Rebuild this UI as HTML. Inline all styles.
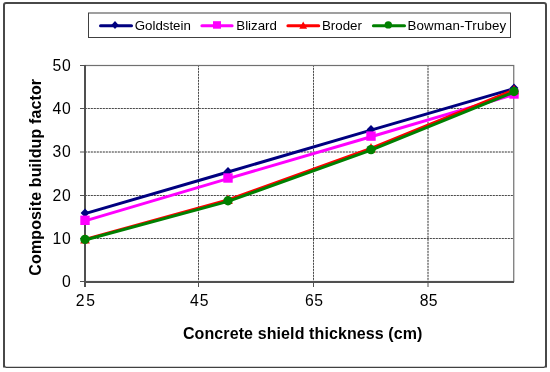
<!DOCTYPE html>
<html><head><meta charset="utf-8">
<style>
html,body{margin:0;padding:0;background:#fff;}
body{width:550px;height:372px;overflow:hidden;}
svg{display:block;}
text{font-family:"Liberation Sans",Arial,sans-serif;fill:#000;}
.tk{font-size:15.75px;}
.lg{font-size:13.3px;fill:#1a1a1a;}
.ti{font-size:16px;font-weight:bold;}
</style></head>
<body>
<svg width="550" height="372" viewBox="0 0 550 372">
<rect x="0" y="0" width="550" height="372" fill="#fff"/>
<!-- chart border -->
<path d="M4,367.5 L4,5 Q4,3 6,3 L544,3 Q546,3 546,5 L546,367.5" fill="none" stroke="#484848" stroke-width="2"/>
<path d="M4.5,365.5 Q4.5,367.3 6.5,367.3 L543.5,367.3 Q545.5,367.3 545.5,365.5" fill="none" stroke="#404040" stroke-width="1.2"/>

<!-- plot area border -->
<rect x="85" y="65.5" width="428.75" height="216" fill="none" stroke="#707070" stroke-width="1.2"/>

<!-- gridlines -->
<g stroke="#c8c8c8" stroke-width="1" fill="none">
<line x1="86" y1="108.5" x2="513" y2="108.5"/>
<line x1="86" y1="152" x2="513" y2="152"/>
<line x1="86" y1="195.5" x2="513" y2="195.5"/>
<line x1="86" y1="238.5" x2="513" y2="238.5"/>
<line x1="198.5" y1="66" x2="198.5" y2="281"/>
<line x1="313.5" y1="66" x2="313.5" y2="281"/>
<line x1="428" y1="66" x2="428" y2="281"/>
</g>
<g stroke="#4a4a4a" stroke-width="1" stroke-dasharray="1.8 1.2" stroke-dashoffset="1" fill="none">
<line x1="86" y1="108.5" x2="513" y2="108.5"/>
<line x1="86" y1="152" x2="513" y2="152"/>
<line x1="86" y1="195.5" x2="513" y2="195.5"/>
<line x1="86" y1="238.5" x2="513" y2="238.5"/>
<line x1="198.5" y1="66" x2="198.5" y2="281"/>
<line x1="313.5" y1="66" x2="313.5" y2="281"/>
<line x1="428" y1="66" x2="428" y2="281"/>
</g>

<!-- axes -->
<g stroke="#505050" fill="none">
<line x1="85" y1="65" x2="85" y2="283" stroke-width="2"/>
<line x1="84" y1="282" x2="514" y2="282" stroke-width="2"/>
<!-- y ticks -->
<line x1="80" y1="65.5" x2="84" y2="65.5" stroke-width="1"/>
<line x1="80" y1="108.5" x2="84" y2="108.5" stroke-width="1"/>
<line x1="80" y1="152" x2="84" y2="152" stroke-width="1"/>
<line x1="80" y1="195.5" x2="84" y2="195.5" stroke-width="1"/>
<line x1="80" y1="238.5" x2="84" y2="238.5" stroke-width="1"/>
<line x1="80" y1="281.5" x2="84" y2="281.5" stroke-width="1"/>
<!-- x ticks -->
<line x1="85" y1="283" x2="85" y2="287" stroke-width="2"/>
<line x1="198.5" y1="283" x2="198.5" y2="287" stroke-width="1"/>
<line x1="313.5" y1="283" x2="313.5" y2="287" stroke-width="1"/>
<line x1="428" y1="283" x2="428" y2="287" stroke-width="1"/>
</g>

<!-- series: line then markers, in series order -->
<g fill="none" stroke-width="3" stroke-linejoin="round">
<polyline stroke="#000080" transform="translate(0,0.6)" points="85,213 228,171.4 371,129.5 514,88"/>
</g>
<g fill="#000080">
<path d="M85,208.6 L89.4,213 L85,217.4 L80.6,213Z"/>
<path d="M228,167 L232.4,171.4 L228,175.8 L223.6,171.4Z"/>
<path d="M371,125.1 L375.4,129.5 L371,133.9 L366.6,129.5Z"/>
<path d="M514,83.6 L518.4,88 L514,92.4 L509.6,88Z"/>
</g>
<g fill="none" stroke-width="3" stroke-linejoin="round">
<polyline stroke="#FF00FF" transform="translate(0,0.6)" points="85,220.3 228,178 371,136.1 514,94"/>
</g>
<g fill="#FF00FF">
<rect x="80.3" y="215.6" width="9.4" height="9.4"/>
<rect x="223.3" y="173.3" width="9.4" height="9.4"/>
<rect x="366.3" y="131.4" width="9.4" height="9.4"/>
<rect x="509.3" y="89.3" width="9.4" height="9.4"/>
</g>
<g fill="none" stroke-width="3" stroke-linejoin="round">
<polyline stroke="#FF0000" transform="translate(0,0.6)" points="85,238.8 228,199.3 371,147.7 514,89.5"/>
</g>
<g fill="#FF0000">
<path d="M85,234 L89.8,243.6 L80.2,243.6Z"/>
<path d="M228,194.5 L232.8,204.1 L223.2,204.1Z"/>
<path d="M371,142.9 L375.8,152.5 L366.2,152.5Z"/>
<path d="M514,84.7 L518.8,94.3 L509.2,94.3Z"/>
</g>
<g fill="none" stroke-width="3" stroke-linejoin="round">
<polyline stroke="#008000" transform="translate(0,0.6)" points="85,239.4 228,200.8 371,149.6 514,91.5"/>
</g>
<g fill="#008000">
<circle cx="85" cy="239.4" r="4.7"/>
<circle cx="228" cy="200.8" r="4.7"/>
<circle cx="371" cy="149.6" r="4.7"/>
<circle cx="514" cy="91.5" r="4.7"/>
</g>

<!-- y tick labels -->
<g class="tk" text-anchor="end">
<text x="70.7" y="71.2" textLength="18.3" lengthAdjust="spacing">50</text>
<text x="70.7" y="113.9" textLength="18.3" lengthAdjust="spacing">40</text>
<text x="70.7" y="157" textLength="18.3" lengthAdjust="spacing">30</text>
<text x="70.7" y="200.9" textLength="18.3" lengthAdjust="spacing">20</text>
<text x="70.7" y="244" textLength="18.3" lengthAdjust="spacing">10</text>
<text x="70.7" y="287.3">0</text>
</g>
<!-- x tick labels -->
<g class="tk" text-anchor="middle">
<text x="85.3" y="306" textLength="19.2" lengthAdjust="spacing">25</text>
<text x="199.3" y="306" textLength="18.6" lengthAdjust="spacing">45</text>
<text x="314" y="306" textLength="17.9" lengthAdjust="spacing">65</text>
<text x="428.6" y="306" textLength="17.6" lengthAdjust="spacing">85</text>
</g>

<!-- axis titles -->
<text class="ti" x="302.7" y="339.1" text-anchor="middle" textLength="239.5" lengthAdjust="spacing">Concrete shield thickness (cm)</text>
<text class="ti" transform="translate(41.1,177.3) rotate(-90)" x="0" y="0" text-anchor="middle" textLength="196.7" lengthAdjust="spacing">Composite buildup factor</text>

<!-- legend -->
<rect x="88.5" y="13" width="422" height="24.5" fill="#fff" stroke="#404040" stroke-width="1"/>
<g stroke-width="3" stroke-linecap="round" fill="none">
<line x1="100.5" y1="25.8" x2="131.5" y2="25.8" stroke="#000080"/>
<line x1="201.9" y1="25.8" x2="232.1" y2="25.8" stroke="#FF00FF"/>
<line x1="287.9" y1="25.8" x2="318.7" y2="25.8" stroke="#FF0000"/>
<line x1="373.4" y1="25.8" x2="404.5" y2="25.8" stroke="#008000"/>
</g>
<path d="M115,21.1 L118.6,25 L115,28.9 L111.4,25Z" fill="#000080"/>
<rect x="213" y="21.2" width="8" height="7.5" fill="#FF00FF"/>
<path d="M303.2,21.6 L307.1,28.7 L299.3,28.7Z" fill="#FF0000"/>
<circle cx="388.3" cy="24.9" r="3.7" fill="#008000"/>
<g class="lg">
<text x="134.7" y="30">Goldstein</text>
<text x="236.3" y="30">Blizard</text>
<text x="322" y="30">Broder</text>
<text x="407.4" y="30" textLength="98.8" lengthAdjust="spacing">Bowman-Trubey</text>
</g>
</svg>
</body></html>
